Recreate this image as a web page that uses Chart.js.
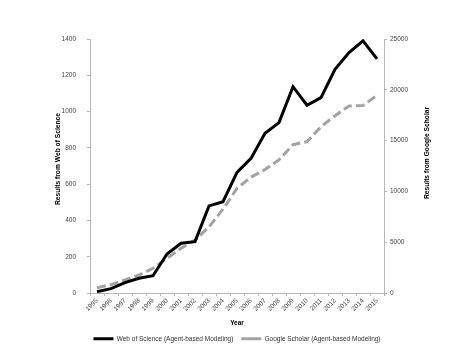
<!DOCTYPE html>
<html>
<head>
<meta charset="utf-8">
<script src="https://cdn.jsdelivr.net/npm/chart.js@4"></script>
<style>
html,body{margin:0;padding:0;background:#fff;}
#wrap{width:474px;height:355px;position:relative;}
</style>
</head>
<body>
<div id="wrap"><canvas id="c" width="474" height="355"></canvas></div>
<script>
const years = ['1995','1996','1997','1998','1999','2000','2001','2002','2003','2004','2005','2006','2007','2008','2009','2010','2011','2012','2013','2014','2015'];
const webOfScience = [7,24,57,81,95,215,274,283,480,503,665,742,880,939,1137,1035,1077,1233,1325,1390,1290];
const googleScholar = [520,820,1280,1770,2430,3410,4400,5220,6500,8250,10300,11400,12150,13100,14600,14900,16370,17450,18400,18450,19450];
const seriesNames = ['Web of Science (Agent-based Modeling)','Google Scholar (Agent-based Modeling)'];
const leftTitle = 'Results from Web of Science';
const rightTitle = 'Results from Google Scholar';
const xTitle = 'Year';

const FONT = "'Liberation Sans', Arial, sans-serif";
const AXIS = '#b8b8b8';
const TICKC = '#444444';

const axisTitles = {
  id: 'axisTitles',
  afterDraw(chart) {
    const ctx = chart.ctx;
    ctx.save();
    ctx.fillStyle = '#000';
    ctx.font = 'bold 6.7px ' + FONT;
    ctx.textAlign = 'center';
    ctx.textBaseline = 'middle';
    ctx.translate(58, 159);
    ctx.rotate(-Math.PI / 2);
    ctx.fillText(leftTitle, 0, 0);
    ctx.restore();
    ctx.save();
    ctx.fillStyle = '#000';
    ctx.font = 'bold 6.7px ' + FONT;
    ctx.textAlign = 'center';
    ctx.textBaseline = 'middle';
    ctx.translate(427, 153);
    ctx.rotate(-Math.PI / 2);
    ctx.fillText(rightTitle, 0, 0);
    ctx.restore();
  }
};

const plain = v => String(v);

new Chart(document.getElementById('c'), {
  type: 'line',
  data: {
    labels: years,
    datasets: [
      {
        label: seriesNames[0],
        data: webOfScience,
        yAxisID: 'y',
        borderColor: '#000000',
        backgroundColor: 'transparent',
        borderWidth: 3,
        pointRadius: 0,
        tension: 0,
        fill: false
      },
      {
        label: seriesNames[1],
        data: googleScholar,
        yAxisID: 'y1',
        borderColor: '#a3a3a3',
        backgroundColor: 'transparent',
        borderWidth: 3,
        borderDash: [9, 4],
        pointRadius: 0,
        tension: 0,
        fill: false
      }
    ]
  },
  options: {
    responsive: false,
    animation: false,
    devicePixelRatio: 1,
    layout: { padding: { top: 39, left: 0, right: 0, bottom: 3 } },
    plugins: {
      tooltip: { enabled: false },
      legend: {
        position: 'bottom',
        labels: {
          boxWidth: 20,
          boxHeight: 0,
          padding: 8,
          color: '#333',
          font: { family: FONT, size: 6.5 }
        }
      }
    },
    scales: {
      x: {
        type: 'category',
        offset: true,
        afterFit(s) { s.height = 34.5; },
        grid: { display: true, offset: true, drawOnChartArea: false, drawTicks: true, tickLength: 3, color: AXIS },
        border: { display: true, color: AXIS, width: 1 },
        ticks: {
          autoSkip: false, minRotation: 45, maxRotation: 45, padding: 1,
          color: TICKC, font: { family: FONT, size: 6.5 }
        },
        title: {
          display: true, text: xTitle, color: '#000',
          font: { family: FONT, size: 6.5, weight: 'bold' },
          padding: { top: 2, bottom: 0 }
        }
      },
      y: {
        position: 'left',
        min: 0, max: 1400,
        afterFit(s) { s.width = 90; },
        grid: { display: true, drawOnChartArea: false, drawTicks: true, tickLength: 3, color: AXIS },
        border: { display: true, color: AXIS, width: 1 },
        ticks: { stepSize: 200, padding: 11, color: TICKC, font: { family: FONT, size: 6.5 }, callback: plain }
      },
      y1: {
        position: 'right',
        min: 0, max: 25000,
        afterFit(s) { s.width = 90; },
        grid: { display: true, drawOnChartArea: false, drawTicks: true, tickLength: 3, color: AXIS },
        border: { display: true, color: AXIS, width: 1 },
        ticks: { stepSize: 5000, padding: 3, color: TICKC, font: { family: FONT, size: 6.5 }, callback: plain }
      }
    }
  },
  plugins: [axisTitles]
});
</script>
</body>
</html>
